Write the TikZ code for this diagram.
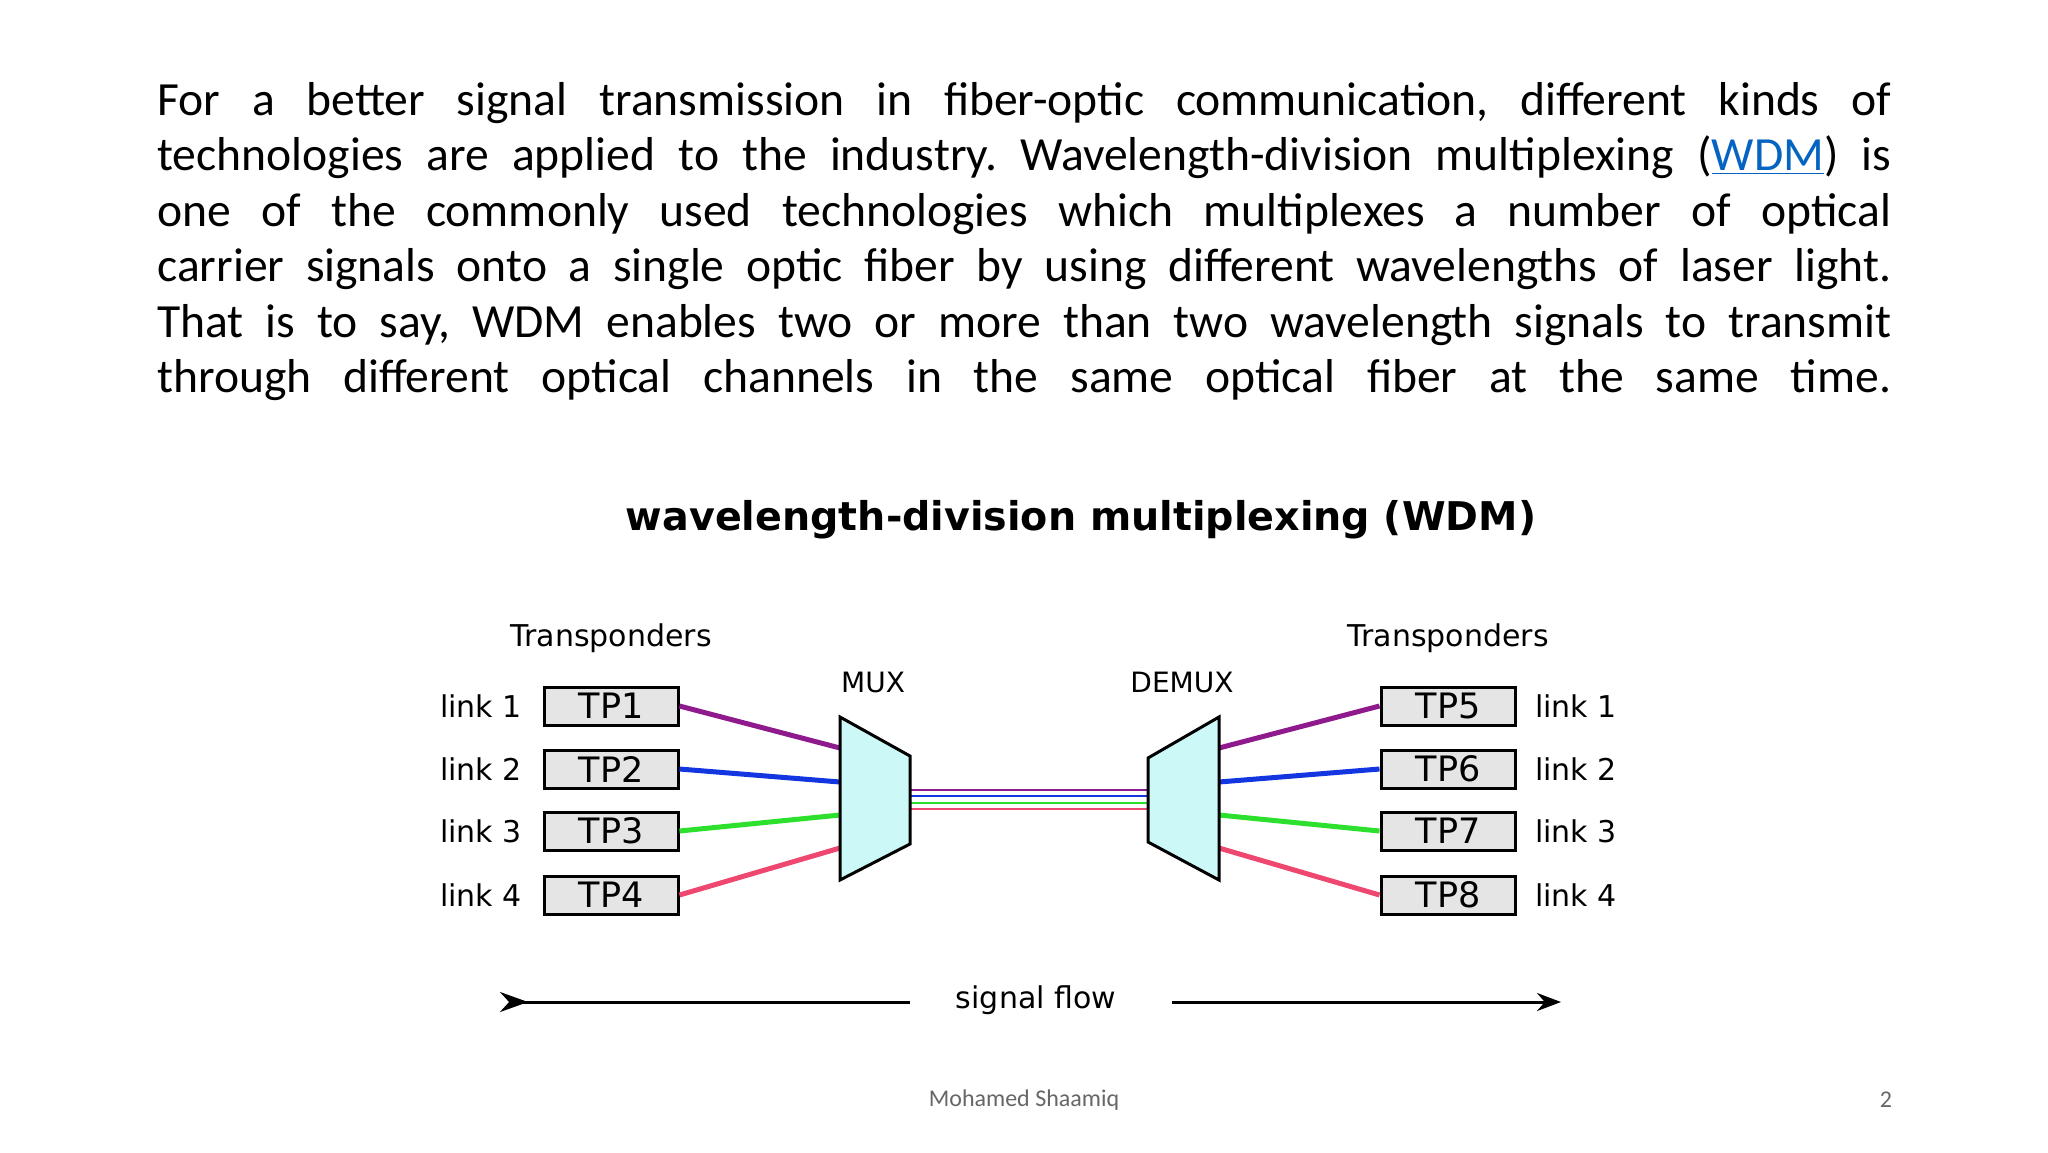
\documentclass[tikz,border=0pt]{standalone}
\usepackage{fontspec}
\setmainfont{Carlito}
\newfontfamily\djv{DejaVu Sans}
\usetikzlibrary{arrows.meta}
\definecolor{lnk}{HTML}{0563C1}
\definecolor{cpur}{HTML}{8E1A8E}
\definecolor{cblu}{HTML}{1436E0}
\definecolor{cgrn}{HTML}{2EE02E}
\definecolor{cpnk}{HTML}{EE4770}
\definecolor{muxfill}{HTML}{CCF8F8}
\begin{document}
\begin{tikzpicture}[x=0.5pt,y=-0.5pt,
  tpbox/.style={draw,line width=1.5pt,fill=black!10,minimum width=67pt,minimum height=19pt,inner sep=0pt,font=\djv\fontsize{17.5}{17.5}\selectfont},
  lbl/.style={font=\djv\fontsize{15}{15}\selectfont},
  wire/.style={line width=2.5pt},
  fib/.style={line width=0.7pt},
  trap/.style={draw,line width=1.5pt,fill=muxfill,line join=miter}]
\useasboundingbox (0,0) rectangle (2048,1152);
\node[anchor=north west,inner sep=0pt,font=\fontsize{23.8}{27.7}\selectfont] (para) at (157,82)
{\begin{minipage}{867pt}\frenchspacing\parfillskip=0pt For a better signal transmission in fiber-optic communication, different kinds of\linebreak
technologies are applied to the industry. Wavelength-division multiplexing ({\color{lnk}\underline{WDM}}) is\linebreak
one of the commonly used technologies which multiplexes a number of optical\linebreak
carrier signals onto a single optic fiber by using different wavelengths of laser light.\linebreak
That is to say, WDM enables two or more than two wavelength signals to transmit\linebreak
through different optical channels in the same optical fiber at the same time.\par\end{minipage}};
\node[font=\djv\bfseries\fontsize{19.8}{19.8}\selectfont] (title) at (1081,520) {wavelength-division multiplexing (WDM)};
\node[lbl] (trl) at (611,638) {Transponders};
\node[lbl] (trr) at (1448,638) {Transponders};
\node[font=\djv\fontsize{14}{14}\selectfont] (muxl) at (873,682) {MUX};
\node[font=\djv\fontsize{14}{14}\selectfont] (demuxl) at (1182,682) {DEMUX};
\foreach \i/\y in {1/706,2/769,3/831,4/895}{
  \node[tpbox] (tp\i) at (611,\y) {TP\i};
  \node[lbl] (ll\i) at (481,\y) {link \i};
}
\foreach \i/\y in {5/706,6/769,7/831,8/895}{
  \pgfmathtruncatemacro{\k}{\i-4}
  \node[tpbox] (tp\i) at (1448,\y) {TP\i};
  \node[lbl] (lr\i) at (1576,\y) {link \k};
}
\coordinate (m1) at (840,748); \coordinate (m2) at (840,782);
\coordinate (m3) at (840,815); \coordinate (m4) at (840,848);
\coordinate (d1) at (1219,748); \coordinate (d2) at (1219,782);
\coordinate (d3) at (1219,815); \coordinate (d4) at (1219,848);
\draw[wire,cpur] (tp1.east) -- (m1);
\draw[wire,cblu] (tp2.east) -- (m2);
\draw[wire,cgrn] (tp3.east) -- (m3);
\draw[wire,cpnk] (tp4.east) -- (m4);
\draw[wire,cpur] (d1) -- (tp5.west);
\draw[wire,cblu] (d2) -- (tp6.west);
\draw[wire,cgrn] (d3) -- (tp7.west);
\draw[wire,cpnk] (d4) -- (tp8.west);
\coordinate (fa1) at (910,790); \coordinate (fb1) at (1148,790);
\coordinate (fa2) at (910,796); \coordinate (fb2) at (1148,796);
\coordinate (fa3) at (910,803); \coordinate (fb3) at (1148,803);
\coordinate (fa4) at (910,809); \coordinate (fb4) at (1148,809);
\draw[fib,cpur] (fa1) -- (fb1);
\draw[fib,cblu] (fa2) -- (fb2);
\draw[fib,cgrn] (fa3) -- (fb3);
\draw[fib,cpnk] (fa4) -- (fb4);
\draw[trap] (840,717) -- (910,756) -- (910,844) -- (840,880) -- cycle;
\draw[trap] (1219,717) -- (1148,758) -- (1148,842) -- (1219,880) -- cycle;
\node[font=\djv\fontsize{15}{15}\selectfont] (sf) at (1036,1000) {signal flow};
\coordinate (al) at (500,1002); \coordinate (ar) at (1561,1002);
\draw[line width=1.5pt,{Stealth[reversed,length=14pt,width=10pt]}-] (al) -- (910,1002);
\draw[line width=1.5pt,-{Stealth[length=12pt,width=9pt]}] (1172,1002) -- (ar);
\node[font=\fontsize{12}{12}\selectfont,text=black!60] (auth) at (1024,1100) {Mohamed Shaamiq};
\node[font=\fontsize{12}{12}\selectfont,text=black!60] (pg) at (1886,1100) {2};
\end{tikzpicture}
\end{document}
